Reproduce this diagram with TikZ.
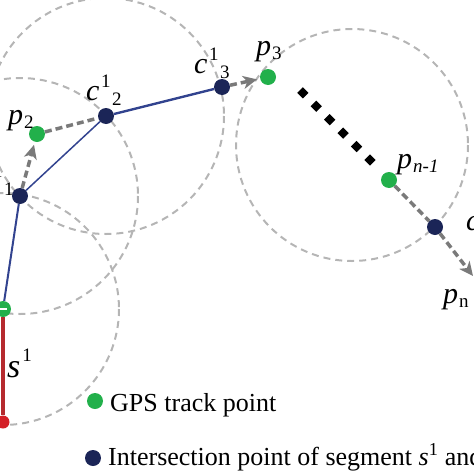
\documentclass[tikz,border=0pt]{standalone}
\usepackage{fontspec}
\setmainfont{Liberation Serif}
\usetikzlibrary{arrows.meta,backgrounds}
\definecolor{navy}{HTML}{1B2557}
\definecolor{lineblue}{HTML}{32438F}
\definecolor{gpsgreen}{HTML}{22B04B}
\definecolor{segred}{HTML}{B52A2E}
\definecolor{dotred}{HTML}{D41F26}
\definecolor{circgray}{HTML}{B5B5B5}
\definecolor{arrgray}{HTML}{7A7A7A}
\newcommand\subsz{\fontsize{19}{20}\selectfont}
\newcommand\lblfont{\fontsize{30}{32}\selectfont}
\newcommand\legfont{\fontsize{26}{30}\selectfont}
\newcommand\sbsp[3]{\textit{#1}\kern1.5pt\raisebox{0.42em}{\subsz #2}\kern1.5pt\raisebox{-0.18em}{\subsz #3}}
\newcommand\sbs[2]{\textit{#1}\kern1pt\raisebox{-0.16em}{\subsz #2}}
\begin{document}
\begin{tikzpicture}[x=1pt,y=-1pt,
  gps/.style={circle,fill=gpsgreen,inner sep=0pt,minimum size=16pt},
  isect/.style={circle,fill=navy,inner sep=0pt,minimum size=16pt},
  reddot/.style={circle,fill=dotred,inner sep=0pt,minimum size=13pt},
  rng/.style={draw=circgray,line width=2pt,dash pattern=on 7pt off 5pt},
  trackline/.style={draw=lineblue,line width=1.6pt},
  guide/.style={draw=arrgray,line width=3.5pt,dash pattern=on 7pt off 4pt},
  guidearrow/.style={guide,-{Stealth[length=14pt,width=13pt,inset=4pt]}},
  lbl/.style={anchor=base west,inner sep=0pt,font=\lblfont},
  legtext/.style={anchor=base west,inner sep=0pt,font=\legfont},
]
\useasboundingbox (0,0) rectangle (474,474);
\clip (0,0) rectangle (474,474);

% points
\node[gps] (p1) at (3,309) {};
\node[reddot] (s0) at (3,422) {};
\node[isect] (c11) at (20,196) {};
\node[gps] (p2) at (37,134) {};
\node[isect] (c12) at (106,116) {};
\node[isect] (c13) at (222,87) {};
\node[gps] (p3) at (268,77) {};
\node[gps] (pn1) at (389,180) {};
\node[isect] (cn) at (435,227) {};
\coordinate (pnend) at (473,276);
\coordinate (rc) at (352,145);
\coordinate (d1) at (300,90);
\coordinate (d2) at (373.2,163.2);

% range circles
\begin{scope}[on background layer]
\draw[rng] (p1.center) circle[radius=116];
\draw[rng] (c11.center) circle[radius=118];
\draw[rng] (c12.center) circle[radius=118];
\draw[rng] (rc) circle[radius=116];
\end{scope}

% segment and matched path
\draw[segred,line width=3.5pt] (p1) -- (s0);
\draw[trackline,line width=2pt] (p1) -- (c11);
\draw[trackline,line width=1.5pt] (c11) -- (c12);
\draw[trackline,line width=2.4pt] (c12) -- (c13);
\draw[white,line width=1.2pt] ([xshift=-4pt]p1.center) -- ([xshift=4pt]p1.center);

% guide arrows
\draw[guidearrow,shorten >=3pt] (c11) -- (p2);
\draw[guide] (p2) -- (c12);
\draw[guidearrow,shorten >=3pt] (c13) -- (p3);
\draw[guide] (pn1) -- (cn);
\draw[guidearrow] (cn) -- (pnend);
\draw[black,line width=8pt,dash pattern=on 8pt off 11pt] (d1) -- (d2);

% labels
\node[lbl] (lc11) at (-22,190) {\sbsp{c}{1}{1}};
\node[lbl] (lc12) at (86,100) {\sbsp{c}{1}{2}};
\node[lbl] (lc13) at (194,73) {\sbsp{c}{1}{3}};
\node[lbl] (lp2) at (8,124) {\sbs{p}{2}};
\node[lbl] (lp3) at (256,55) {\sbs{p}{3}};
\node[lbl] (lpn1) at (397,168) {\sbs{p}{\textit{n-1}}};
\node[lbl] (lcn) at (466,230) {\sbsp{c}{1}{n}};
\node[lbl] (lpn) at (443,303) {\sbs{p}{n}};
\node[lbl,font=\fontsize{34}{36}\selectfont] (ls1) at (7,377) {\textit{s}\kern2pt\raisebox{0.45em}{\subsz 1}};

% legend
\node[gps] (lg1) at (95,401) {};
\node[legtext] (lt1) at (110,411) {GPS track point};
\node[isect] (lg2) at (93,458) {};
\node[legtext] (lt2) at (108,465) {Intersection point of segment \textit{s}\textsuperscript{1} and};
\end{tikzpicture}
\end{document}
